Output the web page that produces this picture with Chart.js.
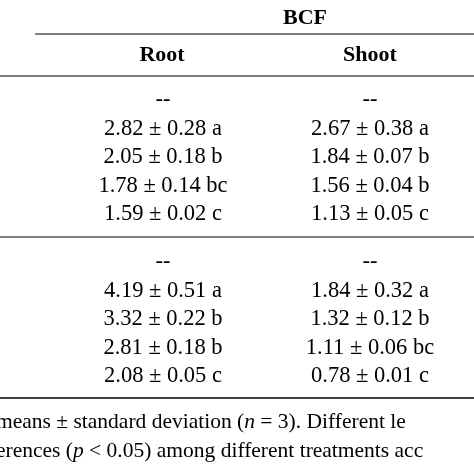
<!DOCTYPE html>
<html><head><meta charset="utf-8">
<script src="https://cdn.jsdelivr.net/npm/chart.js@4"></script>
<style>html,body{margin:0;padding:0;background:#fff}#c{display:block}</style>
</head><body>
<div style="width:474px;height:474px"><canvas id="c" width="474" height="474"></canvas></div>
<script>
const header = "BCF";
const columns = ["Root", "Shoot"];
const group1Root = ["--", "2.82 ± 0.28 a", "2.05 ± 0.18 b", "1.78 ± 0.14 bc", "1.59 ± 0.02 c"];
const group1Shoot = ["--", "2.67 ± 0.38 a", "1.84 ± 0.07 b", "1.56 ± 0.04 b", "1.13 ± 0.05 c"];
const group2Root = ["--", "4.19 ± 0.51 a", "3.32 ± 0.22 b", "2.81 ± 0.18 b", "2.08 ± 0.05 c"];
const group2Shoot = ["--", "1.84 ± 0.32 a", "1.32 ± 0.12 b", "1.11 ± 0.06 bc", "0.78 ± 0.01 c"];
const footnotes = [
  [["means ± standard deviation (", 0], ["n", 1], [" = 3). Different le", 0]],
  [["erences (", 0], ["p", 1], [" < 0.05) among different treatments acc", 0]]
];

const tablePlugin = {
  id: 'table',
  afterDraw(chart) {
    const ctx = chart.ctx;
    ctx.save();
    ctx.fillStyle = '#000'; ctx.strokeStyle = '#000';
    ctx.textBaseline = 'middle';
    const line = (x1, y, x2, w) => { ctx.lineWidth = w; ctx.beginPath(); ctx.moveTo(x1, y); ctx.lineTo(x2, y); ctx.stroke(); };
    ctx.textAlign = 'center';
    ctx.font = 'bold 22px "Liberation Serif"';
    ctx.fillText(header, 305, 18);
    line(35, 34, 474, 1);
    ctx.fillText(columns[0], 162, 55);
    ctx.fillText(columns[1], 370, 55);
    line(0, 76, 474, 1.2);
    ctx.font = '22.5px "Liberation Serif"';
    const drawGroup = (root, shoot, y0) => {
      root.forEach((t, i) => ctx.fillText(t, 163, y0 + i * 28.6));
      shoot.forEach((t, i) => ctx.fillText(t, 370, y0 + i * 28.6));
    };
    drawGroup(group1Root, group1Shoot, 100);
    line(0, 237, 474, 1.2);
    drawGroup(group2Root, group2Shoot, 262);
    line(0, 398, 474, 1.5);
    ctx.textAlign = 'left';
    footnotes.forEach((parts, i) => {
      let x = -4;
      parts.forEach(([t, it]) => {
        ctx.font = (it ? 'italic ' : '') + '21.5px "Liberation Serif"';
        ctx.fillText(t, x, 422 + i * 29);
        x += ctx.measureText(t).width;
      });
    });
    ctx.restore();
  }
};

new Chart(document.getElementById('c'), {
  type: 'bar',
  data: { labels: columns, datasets: [{ data: [0, 0] }] },
  options: {
    responsive: false, animation: false,
    plugins: { legend: { display: false }, tooltip: { enabled: false } },
    scales: { x: { display: false }, y: { display: false } }
  },
  plugins: [tablePlugin]
});
</script>
</body></html>
